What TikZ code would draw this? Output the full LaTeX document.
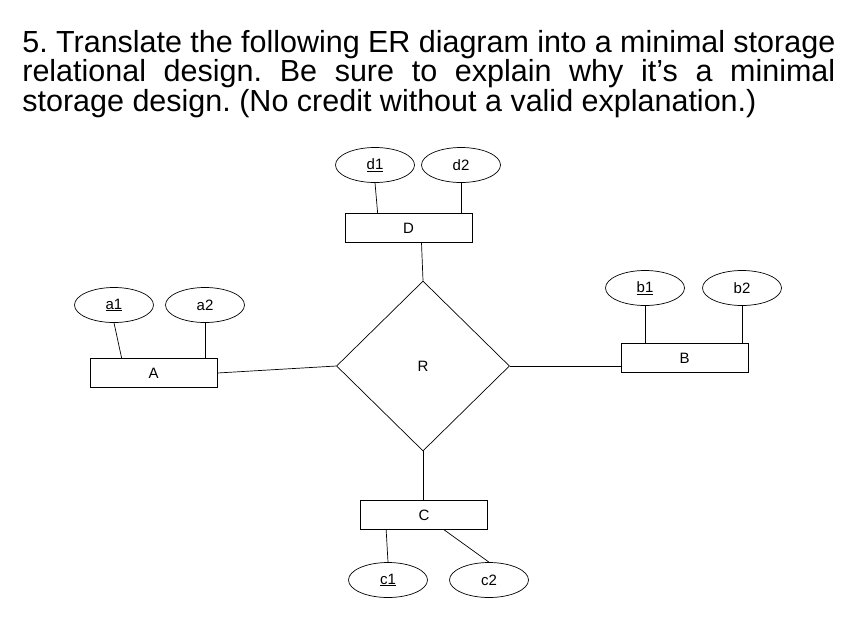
\documentclass[tikz,border=0pt]{standalone}
\usepackage{fontspec}
\setmainfont{Liberation Sans}
\usetikzlibrary{shapes.geometric,calc}
\tikzset{
  ent/.style={draw,minimum width=127pt,minimum height=29pt,inner sep=0pt,font=\fontsize{15}{16}\selectfont},
  att/.style={draw,ellipse,minimum width=79pt,minimum height=35pt,inner sep=0pt,font=\fontsize{15}{16}\selectfont},
  rel/.style={draw,diamond,minimum width=173pt,minimum height=170pt,inner sep=0pt,font=\fontsize{15}{16}\selectfont}
}
\begin{document}
\begin{tikzpicture}[x=1pt,y=-1pt,line width=0.7pt]
\useasboundingbox (0,0) rectangle (856,622);
\node[anchor=north west,text width=813pt,align=justify,inner sep=0pt,font=\fontsize{30.5}{27.5}\selectfont] (title) at (22,30)
{\frenchspacing\hyphenpenalty=10000 5. Translate the following ER diagram into a minimal storage\linebreak relational design. Be sure to explain why it’s a minimal\linebreak storage design. (No credit without a valid explanation.)};
\node[rel] (R) at (423,366) {\raisebox{-6pt}{R}};
\node[ent] (D) at (408.5,228) {D};
\node[att] (d1) at (375,165) {\underline{d1}};
\node[att] (d2) at (461,165) {d2};
\node[ent] (A) at (153.5,373) {A};
\node[att] (a1) at (114,305) {\underline{a1}};
\node[att] (a2) at (205,305) {a2};
\node[ent] (B) at (684.5,358) {B};
\node[att] (b1) at (645,288) {\underline{b1}};
\node[att] (b2) at (742,288) {b2};
\node[ent] (C) at (424,515) {C};
\node[att] (c1) at (388,580) {\underline{c1}};
\node[att] (c2) at (489,580) {c2};
\draw (d1.south) -- ($(D.north west)+(33,0)$);
\draw (d2.south) -- (d2.south |- D.north);
\draw ($(D.south)+(13,0)$) -- (R.north);
\draw (a1.south) -- ($(A.north west)+(32,0)$);
\draw (a2.south) -- (a2.south |- A.north);
\draw (A.east) -- (R.west);
\draw (b1.south) -- (b1.south |- B.north);
\draw (b2.south) -- (b2.south |- B.north);
\draw (R.east) -- (R.east -| B.west);
\draw (R.south) -- (R.south |- C.north);
\draw ($(C.south west)+(26,0)$) -- (c1.north);
\draw ($(C.south west)+(84,0)$) -- (c2.north);
\end{tikzpicture}
\end{document}
